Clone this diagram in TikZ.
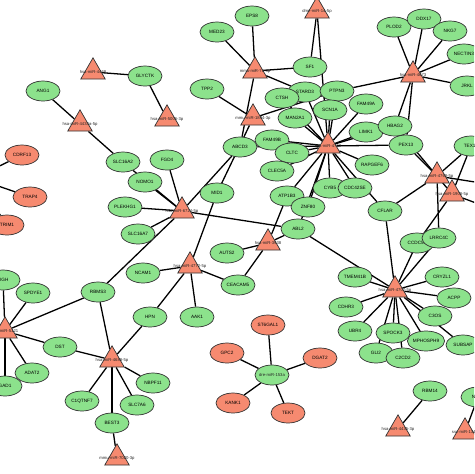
\documentclass[tikz,border=0pt]{standalone}
\usepackage{fontspec}
\setmainfont{Liberation Sans}
\usepackage{tikz}
\usetikzlibrary{positioning, shapes.geometric, backgrounds}

\definecolor{gfill}{RGB}{140,226,140}
\definecolor{sfill}{RGB}{246,138,112}

\begin{document}
\begin{tikzpicture}[
    x=0.03cm, y=-0.03cm,
    gene/.style={ellipse, draw=black!80, line width=0.6pt, fill=gfill,
                 minimum width=1.02cm, minimum height=0.6cm, inner sep=0pt,
                 font=\fontsize{4}{4}\selectfont},
    target/.style={gene, fill=sfill},
    mir/.style={regular polygon, regular polygon sides=3, draw=black!80, line width=0.6pt,
                fill=sfill, minimum size=0.85cm, inner sep=0pt},
    mirlbl/.style={font=\fontsize{3.6}{4}\selectfont, text=black!85},
    link/.style={line width=1.1pt, black}
]
    \useasboundingbox (0,0) rectangle (474,474);
    \clip (0,0) rectangle (474,474);

    % miRNAs
    \node[mir, label={[mirlbl]center:hsa-miR-4468}] (ma) at (93,72) {};
    \node[mir, label={[mirlbl]center:hsa-miR-4433a-5p}] (mb) at (80,124) {};
    \node[mir, label={[mirlbl]center:hsa-miR-5006-3p}] (mt) at (167,119) {};
    \node[mir, label={[mirlbl]center:mmu-miR-7a-5p}] (mc) at (255,71) {};
    \node[mir, label={[mirlbl]center:mmu-miR-1894-3p}] (md) at (253,118) {};
    \node[mir, label={[mirlbl]center:dme-miR-14-5p}] (mg) at (317,11) {};
    \node[mir, label={[mirlbl]center:hsa-miR-4673}] (mh) at (413,75) {};
    \node[mir, label={[mirlbl]center:hsa-miR-4763}] (mf) at (328,146) {};
    \node[mir, label={[mirlbl]center:hsa-miR-4768-5p}] (mi) at (437,176) {};
    \node[mir, label={[mirlbl]center:hsa-miR-1908-5p}] (mj) at (452,194) {};
    \node[mir, label={[mirlbl]center:hsa-miR-6724-5p}] (me) at (182,211) {};
    \node[mir, label={[mirlbl]center:hsa-miR-3938}] (ml) at (268,243) {};
    \node[mir, label={[mirlbl]center:hsa-miR-4772-5p}] (mm) at (190,266) {};
    \node[mir, label={[mirlbl]center:hsa-miR-4707-5p}] (mk) at (395,290) {};
    \node[mir, label={[mirlbl]center:hsa-miR-5121}] (mn) at (5,331) {};
    \node[mir, label={[mirlbl]center:hsa-miR-4688-5p}] (mo) at (112,360) {};
    \node[mir, label={[mirlbl]center:mmu-miR-7020-3p}] (mp) at (117,458) {};
    \node[mir, label={[mirlbl]center:hsa-miR-4435-3p}] (mr) at (398,429) {};
    \node[mir, label={[mirlbl]center:ssc-miR-1343}] (ms) at (465,432) {};
    \node[gene, label={[mirlbl]center:dre-miR-153a}] (mq) at (272,375) {};

    % genes
    \node[gene] (glyctk) at (145,76) {GLYCTK};
    \node[gene] (ang1) at (43,91) {ANG1};
    \node[gene] (eps8) at (252,16) {EPS8};
    \node[gene] (med23) at (217,32) {MED23};
    \node[gene] (sf1) at (310,67) {SF1};
    \node[gene] (stard3) at (305,92) {STARD3};
    \node[gene] (tpp2) at (207,89) {TPP2};
    \node[gene] (ctsh) at (282,98) {CTSH};
    \node[gene] (man2a1) at (295,118) {MAN2A1};
    \node[gene] (fam49b) at (272,140) {FAM49B};
    \node[gene] (cltc) at (292,153) {CLTC};
    \node[gene] (abcd3) at (240,147) {ABCD3};
    \node[gene] (plod2) at (394,27) {PLOD2};
    \node[gene] (ddx17) at (424,19) {DDX17};
    \node[gene] (nkg7) at (450,31) {NKG7};
    \node[gene] (nectin) at (464,54) {NECTIN3};
    \node[gene] (jrkl) at (467,86) {JRKL};
    \node[gene] (ptpn3) at (337,91) {PTPN3};
    \node[gene] (fam49a) at (366,104) {FAM49A};
    \node[gene] (scn1a) at (330,110) {SCN1A};
    \node[gene] (limk1) at (366,132) {LIMK1};
    \node[gene] (hbag2) at (395,126) {HBAG2};
    \node[gene] (pex13) at (406,145) {PEX13};
    \node[gene] (tex14) at (471,146) {TEX14};
    \node[gene] (rapgef6) at (372,165) {RAPGEF6};
    \node[gene] (clec5a) at (277,171) {CLEC5A};
    \node[gene] (cyb5) at (330,188) {CYB5};
    \node[gene] (cdc42se) at (355,188) {CDC42SE};
    \node[gene] (atp1b3) at (287,196) {ATP1B3};
    \node[gene] (znf80) at (308,207) {ZNF80};
    \node[gene] (abl2) at (298,229) {ABL2};
    \node[gene] (cflar) at (385,211) {CFLAR};
    \node[gene] (ccdc57) at (417,243) {CCDC57};
    \node[gene] (lrrc4c) at (439,238) {LRRC4C};
    \node[gene] (tmem41b) at (355,277) {TMEM41B};
    \node[gene] (cryzl1) at (442,277) {CRYZL1};
    \node[gene] (acpp) at (454,298) {ACPP};
    \node[gene] (cdhr3) at (346,307) {CDHR3};
    \node[gene] (c3os) at (435,316) {C3OS};
    \node[gene] (ubr4) at (355,331) {UBR4};
    \node[gene] (spock3) at (393,333) {SPOCK3};
    \node[gene] (mphosph9) at (426,341) {MPHOSPH9};
    \node[gene] (subsap) at (463,345) {SUBSAP};
    \node[gene] (gli2) at (376,353) {GLI2};
    \node[gene] (c2cd2) at (403,358) {C2CD2};
    \node[gene] (rbm14) at (430,391) {RBM14};
    \node[gene] (nrp1) at (478,397) {NRP1};
    \node[gene] (slc16a2) at (123,162) {SLC16A2};
    \node[gene] (nomo1) at (145,182) {NOMO1};
    \node[gene] (fgd4) at (167,160) {FGD4};
    \node[gene] (plekhg1) at (125,207) {PLEKHG1};
    \node[gene] (slc16a7) at (138,234) {SLC16A7};
    \node[gene] (mid1) at (217,193) {MID1};
    \node[gene] (auts2) at (227,253) {AUTS2};
    \node[gene] (ceacam5) at (238,285) {CEACAM5};
    \node[gene] (ncam1) at (143,273) {NCAM1};
    \node[gene] (rbms3) at (98,292) {RBMS3};
    \node[gene] (spdye1) at (33,293) {SPDYE1};
    \node[gene] (ligh) at (3,280) {LIGH};
    \node[gene] (hpn) at (150,317) {HPN};
    \node[gene] (aak1) at (197,317) {AAK1};
    \node[gene] (dst) at (60,347) {DST};
    \node[gene] (adat2) at (32,373) {ADAT2};
    \node[gene] (gad1) at (5,386) {GAD1};
    \node[gene] (c1qtnf7) at (82,401) {C1QTNF7};
    \node[gene] (nbpf11) at (153,383) {NBPF11};
    \node[gene] (slc7a6) at (137,405) {SLC7A6};
    \node[gene] (best3) at (112,423) {BEST3};

    % targets
    \node[target] (cdrf13) at (22,155) {CDRF13};
    \node[target] (trap4) at (30,197) {TRAP4};
    \node[target] (trim1) at (7,225) {TRIM1};
    \node[target] (st6gal1) at (268,325) {ST6GAL1};
    \node[target] (gpc2) at (227,353) {GPC2};
    \node[target] (dgat2) at (320,358) {DGAT2};
    \node[target] (kank1) at (233,403) {KANK1};
    \node[target] (tekt) at (288,413) {TEKT};

    \coordinate (offl) at (-25,178);
    \coordinate (offn) at (-25,318);
    \coordinate (offr1) at (500,186);
    \coordinate (offr2) at (500,212);

    % links
    \begin{scope}[on background layer]
    \clip (0,0) rectangle (474,474);
    \draw[link] (ma) -- (glyctk);
    \draw[link] (glyctk) -- (mt);
    \draw[link] (ang1) -- (mb);
    \draw[link] (mb) -- (slc16a2);
    \foreach \g in {slc16a2, nomo1, fgd4, plekhg1, slc16a7, rbms3, abcd3, abl2}
        \draw[link] (me) -- (\g);
    \foreach \g in {eps8, med23, sf1, stard3, abcd3}
        \draw[link] (mc) -- (\g);
    \draw[link] (mg) -- (sf1);
    \draw[link] (mg) -- (mf);
    \foreach \g in {tpp2, ptpn3, mid1}
        \draw[link] (md) -- (\g);
    \foreach \g in {ctsh, stard3, ptpn3, scn1a, fam49a, limk1, hbag2, pex13, man2a1, fam49b,
                    cltc, abcd3, rapgef6, clec5a, cyb5, cdc42se, atp1b3, znf80, cflar, abl2}
        \draw[link] (mf) -- (\g);
    \foreach \g in {plod2, ddx17, nkg7, nectin, jrkl, ptpn3, hbag2, pex13}
        \draw[link] (mh) -- (\g);
    \draw[link] (hbag2) -- (mj);
    \draw[link] (pex13) -- (mi);
    \draw[link] (tex14) -- (mi);
    \draw[link] (tex14) -- (mj);
    \draw[link] (mi) -- (cflar);
    \draw[link] (mi) -- (lrrc4c);
    \draw[link] (mj) -- (ccdc57);
    \draw[link] (mi) -- (offr1);
    \draw[link] (mj) -- (offr2);
    \foreach \g in {auts2, abl2, ceacam5, atp1b3}
        \draw[link] (ml) -- (\g);
    \foreach \g in {mid1, ceacam5, ncam1, hpn, aak1}
        \draw[link] (mm) -- (\g);
    \foreach \g in {abl2, cflar, ccdc57, lrrc4c, tmem41b, cryzl1, acpp, cdhr3, c3os,
                    ubr4, spock3, mphosph9, subsap, gli2, c2cd2}
        \draw[link] (mk) -- (\g);
    \foreach \g in {rbms3, spdye1, ligh, dst, adat2, gad1, offn}
        \draw[link] (mn) -- (\g);
    \foreach \g in {dst, rbms3, hpn, c1qtnf7, nbpf11, slc7a6, best3}
        \draw[link] (mo) -- (\g);
    \draw[link] (mp) -- (best3);
    \foreach \g in {st6gal1, gpc2, dgat2, kank1, tekt}
        \draw[link] (mq) -- (\g);
    \draw[link] (mr) -- (rbm14);
    \draw[link] (ms) -- (nrp1);
    \foreach \g in {cdrf13, trap4, trim1}
        \draw[link] (offl) -- (\g);
    \end{scope}

\end{tikzpicture}
\end{document}
